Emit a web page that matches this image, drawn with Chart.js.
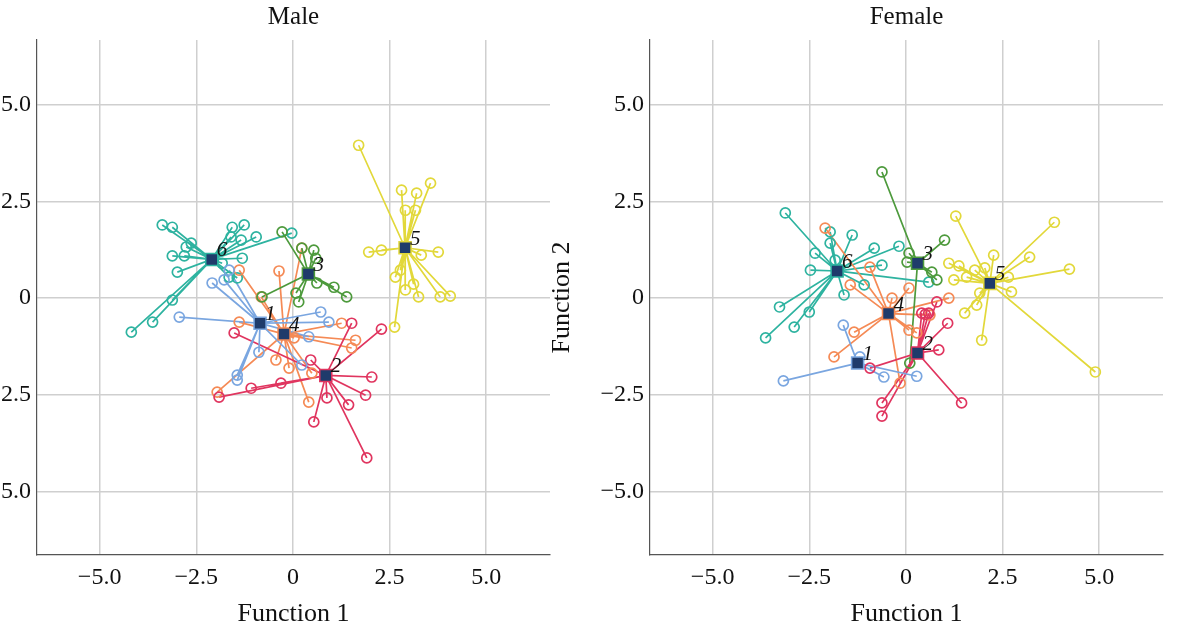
<!DOCTYPE html>
<html>
<head>
<meta charset="utf-8">
<script src="https://cdn.jsdelivr.net/npm/chart.js@4/dist/chart.umd.min.js"></script>
<style>
  body { margin: 0; width: 1200px; height: 630px; overflow: hidden; background: #fff; position: relative; }
  .box { position: absolute; top: 0; width: 630px; height: 630px; }
</style>
</head>
<body>
<div class="box" style="left:-68px"><canvas id="male"></canvas></div>
<div class="box" style="left:545px"><canvas id="female"></canvas></div>
<script>
// group names and colours
const groups = ['1', '2', '3', '4', '5', '6'];
const groupColors = ['#7aa6e0', '#e0355f', '#4d9a3c', '#f58a55', '#e2d83a', '#2eb3a0'];
const tickValues = [-5, -2.5, 0, 2.5, 5];

// Male: group centroids and cases (Function 1, Function 2)
const maleCentroids = [[-0.85, -0.65], [0.85, -2.0], [0.4, 0.62], [-0.23, -0.93], [2.9, 1.3], [-2.1, 1.0]];
const maleG1 = [[-2.09, 0.39], [-1.78, 0.47], [-2.94, -0.49], [0.72, -0.36], [0.93, -0.62], [0.41, -1.0], [-0.88, -1.4], [-1.44, -1.99], [-1.44, -2.12], [0.23, -1.73], [-1.65, 0.72]];
const maleG2 = [[1.52, -0.65], [2.29, -0.8], [-1.52, -0.9], [0.46, -1.6], [2.04, -2.04], [1.88, -2.51], [1.44, -2.76], [0.88, -2.58], [0.54, -3.2], [1.91, -4.13], [-1.91, -2.56], [-1.08, -2.33], [-0.31, -2.2]];
const maleG3 = [[-0.28, 1.71], [0.23, 1.29], [0.54, 1.24], [0.59, 1.03], [0.62, 0.39], [1.06, 0.28], [1.39, 0.03], [0.15, -0.1], [0.08, 0.13], [-0.8, 0.03]];
const maleG4 = [[0.23, 1.29], [-0.36, 0.7], [-1.39, 0.72], [-0.82, 0.03], [-1.39, -0.62], [1.26, -0.65], [1.62, -1.09], [1.52, -1.29], [-0.44, -1.6], [-0.1, -1.81], [0.49, -1.94], [-1.96, -2.43], [0.41, -2.69], [0.03, -1.03]];
const maleG5 = [[1.7, 3.95], [2.81, 2.79], [3.2, 2.71], [3.56, 2.97], [2.91, 2.27], [3.17, 2.27], [1.96, 1.19], [2.29, 1.24], [3.76, 1.19], [3.32, 1.11], [2.65, 0.54], [2.78, 0.72], [3.12, 0.36], [2.91, 0.21], [3.25, 0.03], [3.81, 0.03], [4.07, 0.05], [2.63, -0.75]];
const maleG6 = [[-3.38, 1.89], [-3.12, 1.83], [-2.63, 1.42], [-2.76, 1.32], [-3.12, 1.09], [-2.81, 1.09], [-2.99, 0.67], [-1.57, 1.83], [-1.26, 1.89], [-1.6, 1.58], [-0.95, 1.58], [-1.34, 1.5], [-1.31, 1.03], [-1.83, 0.9], [-1.65, 0.54], [-1.44, 0.52], [-3.12, -0.05], [-3.63, -0.62], [-4.18, -0.88], [-0.03, 1.68]];

// Female
const femaleCentroids = [[-1.25, -1.68], [0.3, -1.42], [0.3, 0.9], [-0.45, -0.4], [2.17, 0.38], [-1.78, 0.7]];
const femaleG1 = [[-1.62, -0.7], [-1.19, -1.52], [-0.57, -2.04], [0.28, -2.02], [-3.17, -2.14]];
const femaleG2 = [[0.8, -0.1], [0.41, -0.39], [0.59, -0.39], [1.08, -0.65], [0.85, -1.34], [-0.93, -1.81], [1.44, -2.71], [-0.62, -2.71], [-0.62, -3.05], [0.5, -0.42]];
const femaleG3 = [[-0.62, 3.26], [1.0, 1.5], [0.08, 1.16], [0.03, 0.93], [0.67, 0.67], [0.8, 0.47], [0.1, -1.68]];
const femaleG4 = [[-2.09, 1.81], [-0.93, 0.8], [-1.44, 0.34], [0.08, 0.26], [-0.36, 0], [1.11, 0], [-1.34, -0.88], [-1.86, -1.52], [0.08, -0.83], [0.28, -0.9], [0.62, -0.44], [-0.15, -2.2]];
const femaleG5 = [[1.29, 2.12], [3.84, 1.96], [2.27, 1.11], [3.2, 1.06], [4.23, 0.75], [1.11, 0.9], [1.37, 0.83], [1.78, 0.72], [1.57, 0.54], [1.24, 0.47], [2.04, 0.78], [2.65, 0.54], [2.73, 0.16], [1.91, 0.13], [1.83, -0.18], [1.52, -0.39], [1.96, -1.09], [4.9, -1.91]];
const femaleG6 = [[-3.12, 2.2], [-1.96, 1.71], [-1.39, 1.63], [-1.96, 1.42], [-2.35, 1.16], [-0.82, 1.29], [-0.18, 1.34], [-0.62, 0.85], [-2.47, 0.72], [-1.08, 0.34], [-1.6, 0.08], [-3.27, -0.23], [-2.5, -0.36], [-2.89, -0.75], [-3.63, -1.03], [0.59, 0.41], [-1.83, 0.98]];

const font = "'Liberation Serif', 'DejaVu Serif', serif";

function buildDatasets(centroids, cases) {
  const ds = [];
  // star lines: point -> centroid -> next point ...
  cases.forEach(function (pts, g) {
    const c = centroids[g];
    const zig = [];
    pts.forEach(function (p) {
      zig.push({ x: p[0], y: p[1] });
      zig.push({ x: c[0], y: c[1] });
    });
    ds.push({ data: zig, showLine: true, borderColor: groupColors[g], borderWidth: 1.7, pointRadius: 0, order: 3 });
  });
  // case markers
  cases.forEach(function (pts, g) {
    ds.push({
      data: pts.map(p => ({ x: p[0], y: p[1] })),
      pointRadius: 5, borderWidth: 1.7, pointStyle: 'circle',
      borderColor: groupColors[g], backgroundColor: 'rgba(255,255,255,0)', order: 2
    });
  });
  // centroids
  ds.push({
    data: centroids.map(c => ({ x: c[0], y: c[1] })),
    pointStyle: 'rect', pointRadius: 8.5, borderWidth: 1.5,
    backgroundColor: '#1f3b6b', borderColor: groupColors, order: 1
  });
  return ds;
}

const labelPlugin = {
  id: 'labels',
  afterDatasetsDraw(chart) {
    const ctx = chart.ctx;
    const xs = chart.scales.x, ys = chart.scales.y;
    const cents = chart.options.plugins.labels.centroids;
    ctx.save();
    ctx.fillStyle = '#111';
    ctx.font = 'italic 21px ' + font;
    ctx.textAlign = 'left';
    ctx.textBaseline = 'bottom';
    cents.forEach(function (c, i) {
      ctx.fillText(groups[i], xs.getPixelForValue(c[0]) + 5, ys.getPixelForValue(c[1]) + 2);
    });
    ctx.font = '25px ' + font;
    ctx.textAlign = 'center';
    ctx.textBaseline = 'middle';
    ctx.fillText(chart.options.plugins.labels.title, (chart.chartArea.left + chart.chartArea.right) / 2, 17);
    ctx.restore();
  }
};

function fmt(v) {
  if (v === 0) return '0';
  return (v < 0 ? '\u2212' : '') + Math.abs(v).toFixed(1);
}

function makeChart(id, title, centroids, cases) {
  new Chart(document.getElementById(id), {
    type: 'scatter',
    data: { datasets: buildDatasets(centroids, cases) },
    plugins: [labelPlugin],
    options: {
      responsive: false, animation: false,
      layout: { padding: { top: 40, right: 12 } },
      plugins: { legend: { display: false }, tooltip: { enabled: false }, labels: { title: title, centroids: centroids } },
      scales: {
        x: {
          min: -6.62, max: 6.65,
          afterBuildTicks: s => { s.ticks = tickValues.map(v => ({ value: v })); },
          afterFit: s => { s.height = 75; },
          grid: { color: '#cfcfcf', lineWidth: 1.5, drawTicks: false },
          border: { color: '#555', width: 1.2 },
          ticks: { callback: fmt, color: '#111', font: { family: font, size: 24 }, padding: 8 },
          title: { display: true, text: 'Function 1', color: '#111', font: { family: font, size: 26 }, padding: 0 }
        },
        y: {
          min: -6.64, max: 6.67,
          afterBuildTicks: s => { s.ticks = tickValues.map(v => ({ value: v })); },
          afterFit: s => { s.width = 105; },
          grid: { color: '#cfcfcf', lineWidth: 1.5, drawTicks: false },
          border: { color: '#555', width: 1.2 },
          ticks: { callback: fmt, color: '#111', font: { family: font, size: 24 }, padding: 6 },
          title: { display: true, text: 'Function 2', color: '#111', font: { family: font, size: 26 }, padding: 2 }
        }
      }
    }
  });
}

function sizeCanvas(id) {
  const c = document.getElementById(id);
  c.width = 630; c.height = 630;
}
sizeCanvas('male'); sizeCanvas('female');
makeChart('male', 'Male', maleCentroids, [maleG1, maleG2, maleG3, maleG4, maleG5, maleG6]);
makeChart('female', 'Female', femaleCentroids, [femaleG1, femaleG2, femaleG3, femaleG4, femaleG5, femaleG6]);
</script>
</body>
</html>
